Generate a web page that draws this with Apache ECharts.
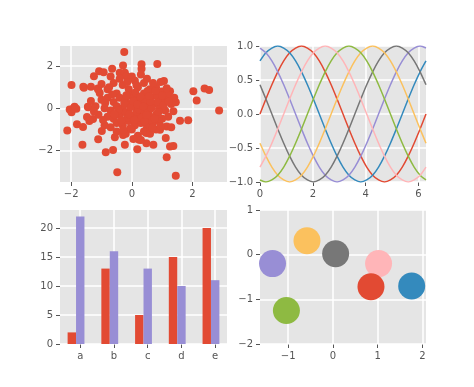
<!DOCTYPE html>
<html>
<head>
<meta charset="utf-8">
<script src="https://cdn.jsdelivr.net/npm/echarts@6/dist/echarts.min.js"></script>
<style>html,body{margin:0;padding:0;background:#fff}#c{width:474px;height:387px}</style>
</head>
<body>
<div id="c"></div>
<script>
// ---- Data ----
const scatterPoints = [
[-0.25,2.67],[0.84,2.10],[-0.29,2.03],[0.32,2.08],[0.32,1.87],[-1.99,1.10],[-1.58,0.97],[-1.25,1.52],
[-1.08,1.76],[-0.93,1.71],[-0.65,1.87],[-0.40,1.68],[-0.23,1.68],[-0.18,1.52],[1.06,1.29],[2.03,0.81],
[2.14,0.37],[2.40,0.94],[2.55,0.87],[2.88,-0.11],[1.86,-0.57],[1.59,-0.59],[1.45,0.29],[1.37,-0.14],
[1.26,0.81],[-2.13,-1.05],[-1.81,-0.75],[-1.61,-0.89],[-1.63,-1.73],[-1.11,-1.46],[-0.99,-1.08],[-0.86,-2.08],
[-0.62,-1.97],[-0.56,-1.37],[-0.29,-1.27],[-0.23,-1.73],[-0.48,-3.03],[0.18,-1.94],[0.24,-1.49],[1.12,-1.41],
[1.15,-2.32],[1.26,-1.81],[1.37,-1.78],[1.45,-3.19],[1.15,-0.86],[0.93,-1.02],[-2.05,-0.06],[-1.99,-0.19],
[-1.83,-0.02],[-1.92,0.0],[-1.44,0.05],[-1.48,-0.41],[-1.28,-0.51],[-1.11,0.89],[-1.06,0.73],[0.48,-1.65],
[0.71,-1.73],[0.48,-1.17],[0.60,-0.73],[-1.60,1.02],[-1.35,1.02],[-1.12,0.94],[-1.89,0.07],[-1.45,0.07],
[-0.8,0.9],[-0.6,1.2],[-0.5,0.7],[-0.3,1.1],[-0.1,0.9],[0.1,1.3],[0.2,1.0],[0.4,1.2],[0.6,0.9],[0.8,1.0],
[1.0,0.8],[1.2,0.6],[-1.0,0.4],[-0.8,0.5],[-0.6,0.3],[-0.4,0.5],[-0.2,0.4],[0.0,0.6],[0.2,0.5],[0.4,0.7],
[0.6,0.5],[0.8,0.6],[1.0,0.4],[1.3,0.2],[-1.2,0.1],[-0.9,0.0],[-0.7,-0.1],[-0.5,0.1],[-0.3,0.0],[-0.1,0.2],
[0.1,0.1],[0.3,0.2],[0.5,0.1],[0.7,0.2],[0.9,0.0],[1.1,-0.1],[-1.1,-0.3],[-0.8,-0.4],[-0.6,-0.5],[-0.4,-0.3],
[-0.2,-0.2],[0.0,-0.4],[0.2,-0.3],[0.4,-0.2],[0.6,-0.4],[0.8,-0.3],[1.0,-0.5],[1.2,-0.4],[-0.9,-0.8],[-0.7,-0.9],
[-0.5,-0.7],[-0.3,-0.8],[-0.1,-0.6],[0.1,-0.8],[0.3,-0.7],[0.5,-0.9],[0.7,-0.7],[0.9,-0.6],[-0.5,-1.1],[-0.2,-1.2],
[0.0,-1.0],[0.2,-1.3],[0.4,-1.1],[0.6,-1.2],[0.8,-1.0],[-0.4,1.4],[0.0,1.5],[0.3,1.6],[-0.7,1.5],[0.5,1.4],
[0.25,0.3],[0.35,-0.05],[0.15,-0.15],[-0.05,0.05],[0.45,0.4],[0.55,-0.15],[0.05,0.35],[-0.15,-0.45],[0.65,0.0],[0.75,-0.5],
[-0.25,0.25],[0.32,-0.45],[0.12,0.75],[-0.35,-0.55],[0.85,0.3],[1.05,0.15],[-0.65,0.65],[-0.45,-0.1],[0.52,0.82],[0.42,-0.62],
[-0.05,-0.95],[0.22,-0.05],[0.62,0.32],[-0.88,0.25],[1.15,0.95],[0.95,-0.85],[-1.25,-0.15],[-1.35,0.35],[0.05,-1.45],[0.3,-1.5],
[-0.15,1.25],[0.7,1.2],[-1.0,1.15],[1.3,-0.9],[1.4,0.5],[-1.4,-0.6],[0.18,0.18],[0.38,0.08],[-0.08,-0.28],[0.48,-0.32],
[0.28,0.55],[0.08,-0.55],[0.58,0.58],[-0.18,0.62],[0.78,0.82],[-0.58,-0.28],[0.88,-0.18],[0.68,-0.92],[-0.28,-1.02],[1.22,0.32],
[-0.75,1.0],[-0.95,-0.55],[0.15,1.1],[0.95,1.25],[1.0,0.6]
];

const sineX = [0,0.224,0.449,0.673,0.898,1.122,1.346,1.571,1.795,2.020,2.244,2.468,2.693,2.917,3.142,3.366,3.590,3.815,4.039,4.264,4.488,4.712,4.937,5.161,5.386,5.610,5.834,6.059,6.283];
const sineRed    = [0,.22,.43,.62,.78,.90,.97,1,.97,.90,.78,.62,.43,.22,0,-.22,-.43,-.62,-.78,-.90,-.97,-1,-.97,-.90,-.78,-.62,-.43,-.22,0];
const sineBlue   = [.78,.90,.97,1,.97,.90,.78,.62,.43,.22,0,-.22,-.43,-.62,-.78,-.90,-.97,-1,-.97,-.90,-.78,-.62,-.43,-.22,0,.22,.43,.62,.78];
const sinePurple = [.97,.90,.78,.62,.43,.22,0,-.22,-.43,-.62,-.78,-.90,-.97,-1,-.97,-.90,-.78,-.62,-.43,-.22,0,.22,.43,.62,.78,.90,.97,1,.97];
const sineGray   = [.43,.22,0,-.22,-.43,-.62,-.78,-.90,-.97,-1,-.97,-.90,-.78,-.62,-.43,-.22,0,.22,.43,.62,.78,.90,.97,1,.97,.90,.78,.62,.43];
const sineYellow = [-.43,-.62,-.78,-.90,-.97,-1,-.97,-.90,-.78,-.62,-.43,-.22,0,.22,.43,.62,.78,.90,.97,1,.97,.90,.78,.62,.43,.22,0,-.22,-.43];
const sineGreen  = [-.97,-1,-.97,-.90,-.78,-.62,-.43,-.22,0,.22,.43,.62,.78,.90,.97,1,.97,.90,.78,.62,.43,.22,0,-.22,-.43,-.62,-.78,-.90,-.97];
const sinePink   = [-.78,-.62,-.43,-.22,0,.22,.43,.62,.78,.90,.97,1,.97,.90,.78,.62,.43,.22,0,-.22,-.43,-.62,-.78,-.90,-.97,-1,-.97,-.90,-.78];

const barCategories = ['a','b','c','d','e'];
const barValues1 = [2,13,5,15,20];
const barValues2 = [22,16,13,10,11];
const barOffset = 0.25;

// circles: [x, y] in draw order
const circleNames = ['blue','purple','gray','yellow','green','pink','red'];
const circleCenters = [[1.76,-0.70],[-1.35,-0.20],[0.06,0.02],[-0.58,0.31],[-1.04,-1.25],[1.02,-0.20],[0.85,-0.72]];

const ticksTLx = [-2,0,2], ticksTLy = [-2,0,2];
const ticksTRx = [0,2,4,6], ticksTRy = [-1,-0.5,0,0.5,1];
const ticksBLx = [0.25,1.25,2.25,3.25,4.25];
const ticksBLy = [0,5,10,15,20];
const ticksBRx = [-1,0,1,2], ticksBRy = [-2,-1,0,1];

// axis extents [xmin, xmax, ymin, ymax]
const ext = [
  [-2.37, 3.14, -3.49, 2.95],
  [0, 6.2832, -1, 1],
  [-0.35, 4.6, 0, 23.1],
  [-1.63, 2.08, -2, 1]
];

// ---- Styles ----
const C = {red:'#E24A33', blue:'#348ABD', purple:'#988ED5', gray:'#777777', yellow:'#FBC15E', green:'#8EBA42', pink:'#FFB5B8'};
const minus = s => String(s).replace('-', '\u2212');
function axis(grid, min, max, ticks, fmt) {
  return {
    type: 'value', gridIndex: grid, min: min, max: max,
    axisLine: {show: false, onZero: false},
    axisTick: {show: true, length: 4, customValues: ticks, lineStyle: {color: '#555555', width: 1}},
    axisLabel: {customValues: ticks, color: '#555555', fontFamily: 'DejaVu Sans', fontSize: 10, margin: 7,
      formatter: fmt || (v => minus(v))},
    splitLine: {show: false}
  };
}
const grids = [
  {left: 60, top: 46, width: 167, height: 136},
  {left: 260, top: 46, width: 166, height: 136},
  {left: 60, top: 210, width: 167, height: 134},
  {left: 260, top: 210, width: 166, height: 134}
];
// gray panel (markArea) below everything
function panel(gi) {
  const e = ext[gi];
  return {
    type: 'line', xAxisIndex: gi, yAxisIndex: gi, data: [], z: 1, silent: true,
    markArea: {
      silent: true, label: {show: false}, emphasis: {disabled: true},
      itemStyle: {color: '#E5E5E5', opacity: 1, borderWidth: 0},
      data: [[{coord: [e[0], e[2]]}, {coord: [e[1], e[3]]}]]
    }
  };
}
// white grid lines at the tick positions
function gridLines(gi, xs, ys) {
  const e = ext[gi];
  const segs = xs.map(v => ({coords: [[v, e[2]], [v, e[3]]]}))
    .concat(ys.map(v => ({coords: [[e[0], v], [e[1], v]]})));
  return {
    type: 'lines', coordinateSystem: 'cartesian2d', xAxisIndex: gi, yAxisIndex: gi, z: 3, silent: true,
    polyline: false, symbol: 'none', animation: false,
    lineStyle: {color: '#ffffff', width: 1.5, opacity: 1, curveness: 0},
    data: segs
  };
}

const option = {
  animation: false,
  grid: grids.map(g => Object.assign({show: false, containLabel: false}, g)),
  xAxis: [
    axis(0, ext[0][0], ext[0][1], ticksTLx),
    axis(1, ext[1][0], ext[1][1], ticksTRx),
    axis(2, ext[2][0], ext[2][1], ticksBLx, v => barCategories[Math.round(v - barOffset)]),
    axis(3, ext[3][0], ext[3][1], ticksBRx)
  ],
  yAxis: [
    axis(0, ext[0][2], ext[0][3], ticksTLy),
    axis(1, ext[1][2], ext[1][3], ticksTRy, v => minus(v.toFixed(1))),
    axis(2, ext[2][2], ext[2][3], ticksBLy),
    axis(3, ext[3][2], ext[3][3], ticksBRy)
  ],
  series: [
    panel(0), panel(1), panel(2), panel(3),
    gridLines(0, ticksTLx, ticksTLy),
    gridLines(1, ticksTRx, ticksTRy),
    gridLines(2, ticksBLx, ticksBLy),
    gridLines(3, ticksBRx, ticksBRy),
    {type: 'scatter', xAxisIndex: 0, yAxisIndex: 0, data: scatterPoints, symbolSize: 8, z: 5,
      itemStyle: {color: C.red, opacity: 1, borderWidth: 0}},
    ...[['red', sineRed], ['blue', sineBlue], ['purple', sinePurple], ['gray', sineGray],
        ['yellow', sineYellow], ['green', sineGreen], ['pink', sinePink]].map(([c, arr]) => ({
      type: 'line', xAxisIndex: 1, yAxisIndex: 1, showSymbol: false, smooth: 0.3, clip: true, z: 5,
      data: sineX.map((x, i) => [x, arr[i]]), lineStyle: {color: C[c], width: 1.5}, itemStyle: {color: C[c]}
    })),
    {type: 'bar', xAxisIndex: 2, yAxisIndex: 2, barWidth: 8.4, barGap: '-100%', z: 5,
      data: barValues1.map((v, i) => [i, v]), itemStyle: {color: C.red}},
    {type: 'bar', xAxisIndex: 2, yAxisIndex: 2, barWidth: 8.4, barGap: '-100%', z: 5,
      data: barValues2.map((v, i) => [i + barOffset, v]), itemStyle: {color: C.purple}},
    {type: 'scatter', xAxisIndex: 3, yAxisIndex: 3, symbolSize: 27, clip: false, z: 5,
      data: circleCenters.map((p, i) => ({value: p, itemStyle: {color: C[circleNames[i]], opacity: 1}}))}
  ]
};
const chart = echarts.init(document.getElementById('c'), null, {renderer: 'canvas'});
chart.setOption(option);
</script>
</body>
</html>
